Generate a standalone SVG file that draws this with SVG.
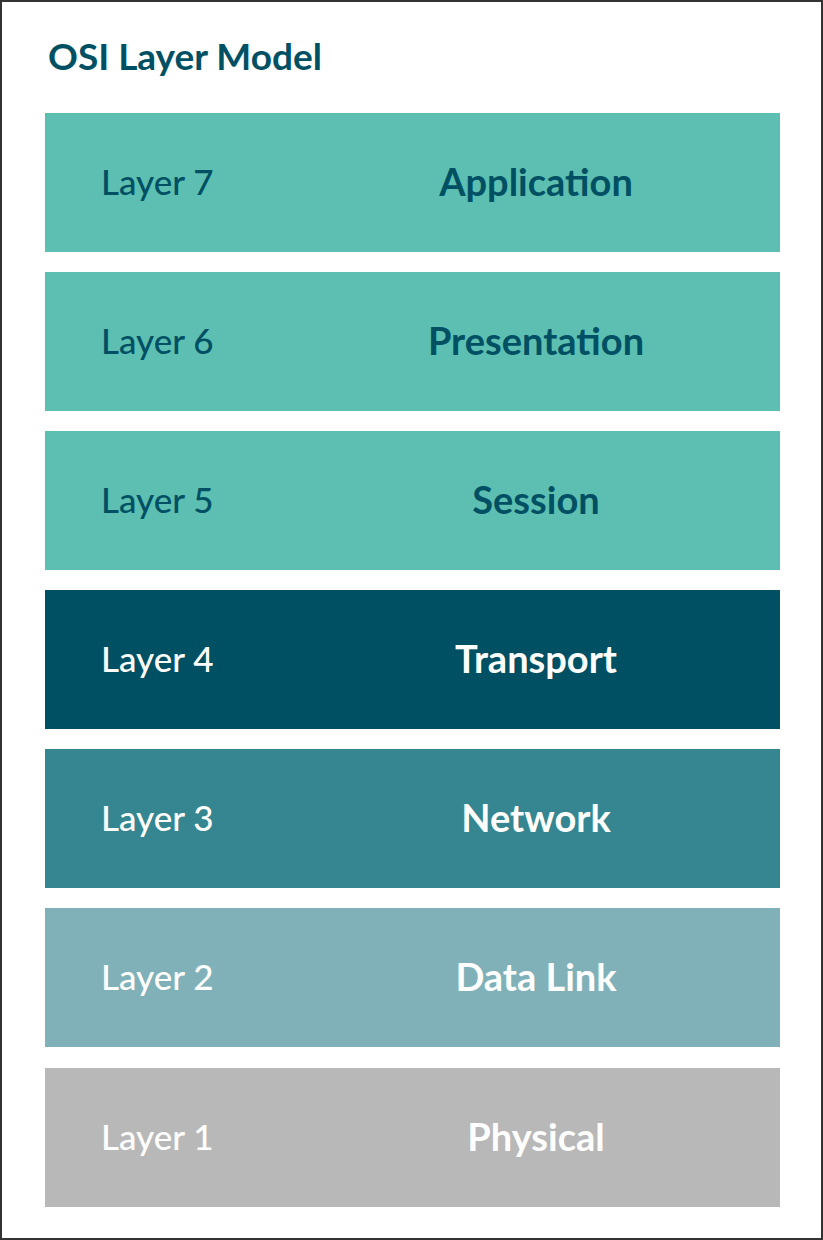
<svg xmlns="http://www.w3.org/2000/svg" width="823" height="1240" viewBox="0 0 823 1240">
<style>
.l{font-family:Lato,"Liberation Sans",sans-serif;font-size:35px;font-weight:500}
.n{font-family:Lato,"Liberation Sans",sans-serif;font-size:38px;font-weight:700;text-anchor:middle}
.d{fill:#005064}.w{fill:#ffffff}
</style>
<rect x="1" y="1" width="821" height="1238" fill="#fff" stroke="#333" stroke-width="2"/>
<text x="48" y="70" font-family="Lato,'Liberation Sans',sans-serif" font-size="37" font-weight="700" fill="#005064">OSI Layer Model</text>
<g id="layer7"><rect x="45" y="113" width="735" height="139" fill="#5DBFB1"/><text class="l d" x="101" y="195">Layer 7</text><text class="n d" x="536" y="196">Application</text></g>
<g id="layer6"><rect x="45" y="272" width="735" height="139" fill="#5DBFB1"/><text class="l d" x="101" y="354">Layer 6</text><text class="n d" x="536" y="355">Presentation</text></g>
<g id="layer5"><rect x="45" y="431" width="735" height="139" fill="#5DBFB1"/><text class="l d" x="101" y="513">Layer 5</text><text class="n d" x="536" y="514">Session</text></g>
<g id="layer4"><rect x="45" y="590" width="735" height="139" fill="#005064"/><text class="l w" x="101" y="672">Layer 4</text><text class="n w" x="536" y="673">Transport</text></g>
<g id="layer3"><rect x="45" y="749" width="735" height="139" fill="#358690"/><text class="l w" x="101" y="831">Layer 3</text><text class="n w" x="536" y="832">Network</text></g>
<g id="layer2"><rect x="45" y="908" width="735" height="139" fill="#80B1B8"/><text class="l w" x="101" y="990">Layer 2</text><text class="n w" x="536" y="991">Data Link</text></g>
<g id="layer1"><rect x="45" y="1068" width="735" height="139" fill="#B8B8B8"/><text class="l w" x="101" y="1150">Layer 1</text><text class="n w" x="536" y="1151">Physical</text></g>
<g id="connectors"/>
</svg>
